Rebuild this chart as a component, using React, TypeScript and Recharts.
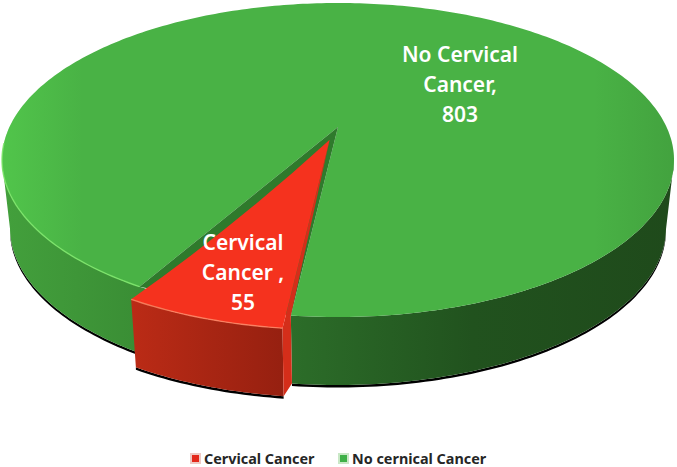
import React from "react";
import { PieChart, Pie, Cell, Legend } from "recharts";

const categories = ["No Cervical Cancer", "Cervical Cancer"];
const values = [803, 55];
const legendLabels = ["Cervical Cancer", "No cernical Cancer"];
const legendColors = ["#e3291b", "#3fb048"];
const sliceColors = ["#49b245", "#f5321e"];
const labelLines = [["No Cervical", "Cancer,", "803"], ["Cervical", "Cancer ,", "55"]];

const data = categories.map((name, i) => ({ name, value: values[i] }));

const FONT = "'Noto Sans', sans-serif";
const W = 677, H = 467;
const CX = 338, CY = 160, R = 336;
const SQUASH = 157 / 336;      // vertical foreshortening of the disc
const K = -0.21;               // perspective shift of the centre
const DEPTH = 68;              // wall height
const BOTTOM_SCALE = 328 / 336;
const EXPLODE_X = 0.08;
const EXPLODE_Y = 0.085;
const LABEL_POS = [{ x: 460, y: 61.5 }, { x: 243, y: 250 }];
const LINE_H = 30;

type P = { x: number; y: number };
const RAD = Math.PI / 180;

function norm(a: number, r = 1) {
  const u = r * Math.cos(a * RAD);
  const v = -r * Math.sin(a * RAD);
  const w = 1 + K * v;
  return { X: (u * Math.sqrt(1 - K * K)) / w, Y: (v + K) / w };
}

function makeProj(cx: number, cy: number, rad: number, dx: number, dy: number) {
  return (a: number, r = 1, bottom = false): P => {
    const { X, Y } = norm(a, r);
    const rx = bottom ? rad * BOTTOM_SCALE : rad;
    return { x: cx + dx + rx * X, y: cy + dy + (bottom ? DEPTH : 0) + rad * SQUASH * Y };
  };
}

const fmt = (p: P) => `${p.x.toFixed(2)} ${p.y.toFixed(2)}`;
const poly = (pts: P[]) => pts.map((p, i) => `${i ? "L" : "M"}${fmt(p)}`).join(" ");

function sampleAngles(start: number, end: number) {
  const n = Math.max(2, Math.ceil(Math.abs(end - start)));
  return Array.from({ length: n + 1 }, (_, i) => start + ((end - start) * i) / n);
}

function bowed(a: P, b: P, amount: number) {
  const mx = (a.x + b.x) / 2, my = (a.y + b.y) / 2;
  const dx = b.x - a.x, dy = b.y - a.y, l = Math.hypot(dx, dy) || 1;
  return `Q${(mx + (Math.abs(dy) / l) * amount).toFixed(2)} ${(my + (Math.abs(dx) / l) * amount).toFixed(2)} ${fmt(b)}`;
}

function Slice3D(props: any) {
  const { cx, cy, outerRadius, startAngle, endAngle, index } = props;
  const mid = (startAngle + endAngle) / 2;
  const isRed = index === 1;
  const dx = isRed ? Math.cos(mid * RAD) * outerRadius * EXPLODE_X : 0;
  const dy = isRed ? -Math.sin(mid * RAD) * outerRadius * SQUASH * EXPLODE_Y : 0;
  const proj = makeProj(cx, cy, outerRadius, dx, dy);
  const base = makeProj(cx, cy, outerRadius, 0, 0);
  const angles = sampleAngles(startAngle, endAngle);
  // the green wall continues a little way under the red slice
  const wallAngles = isRed ? angles : sampleAngles(startAngle + 5, endAngle);

  // wall pieces: the part of the rim facing the viewer
  const runs: number[][] = [];
  let cur: number[] = [];
  wallAngles.forEach((a) => {
    if (norm(a).Y >= 0) cur.push(a);
    else if (cur.length) { runs.push(cur); cur = []; }
  });
  if (cur.length) runs.push(cur);

  const walls = runs.map((run) => {
    const top = run.map((a) => proj(a));
    const bot = run.map((a) => proj(a, 1, true));
    return poly([...top, ...bot.slice().reverse()]) + " Z";
  });
  const shadows = runs.map((run) => {
    const bot = run.map((a) => proj(a, 1, true));
    const low = bot.map((p) => ({ x: p.x, y: p.y + 2.5 }));
    return poly([...bot, ...low.reverse()]) + " Z";
  });

  const apex = proj(0, 0);
  const rim = angles.map((a) => proj(a));
  const first = rim[0], last = rim[rim.length - 1];
  const rimPath = rim.map((p) => `L${fmt(p)}`).join(" ");

  if (!isRed) {
    const top = `M${fmt(apex)} ${rimPath} Z`;
    const notch = `M${fmt(apex)} L${fmt(last)} L${fmt(first)} Z`;
    const highlight = poly(sampleAngles(186, startAngle).map((a) => proj(a)));
    return (
      <g>
        <defs>
          <linearGradient id="greenWall" gradientUnits="userSpaceOnUse" x1="2" y1="0" x2="674" y2="0">
            <stop offset="0" stopColor="#43a03c" />
            <stop offset="0.2" stopColor="#3a8e35" />
            <stop offset="0.43" stopColor="#2c6d29" />
            <stop offset="0.7" stopColor="#21521e" />
            <stop offset="1" stopColor="#1f4a1b" />
          </linearGradient>
          <linearGradient id="greenTopSide" x1="0" y1="0" x2="1" y2="0">
            <stop offset="0" stopColor="#5bdc52" stopOpacity="0.45" />
            <stop offset="0.12" stopColor="#5bdc52" stopOpacity="0" />
            <stop offset="0.88" stopColor="#1f4a1b" stopOpacity="0" />
            <stop offset="1" stopColor="#1f4a1b" stopOpacity="0.15" />
          </linearGradient>
        </defs>
        {shadows.map((d, i) => <path key={`s${i}`} d={d} fill="#000" />)}
        {walls.map((d, i) => <path key={`w${i}`} d={d} fill="url(#greenWall)" />)}
        <path d={top} fill={props.fill} />
        <path d={top} fill="url(#greenTopSide)" />
        <path d={notch} fill="#2f7a2c" />
        <path d={highlight} fill="none" stroke="#7fe86c" strokeWidth={1.4} strokeOpacity={0.85} />
      </g>
    );
  }

  // red slice: start is the right corner, end is the left corner
  const gRight = base(startAngle);
  const gRightBottom = base(startAngle, 1, true);
  const rBottom = proj(startAngle, 1, true);
  const topCurved = `M${fmt(apex)} ${rimPath} ${bowed(last, apex, 8)} Z`;
  return (
    <g>
      <defs>
        <linearGradient id="redWall" x1="0" y1="0" x2="1" y2="0">
          <stop offset="0" stopColor="#bb2b16" />
          <stop offset="1" stopColor="#962010" />
        </linearGradient>
      </defs>
      {shadows.map((d, i) => <path key={`s${i}`} d={d} fill="#000" />)}
      {walls.map((d, i) => <path key={`w${i}`} d={d} fill="url(#redWall)" />)}
      <path d={poly([apex, first, rBottom, gRightBottom, gRight]) + " Z"} fill="#d42e1a" />
      <path d={topCurved} fill={props.fill} />
      <path d={poly(rim)} fill="none" stroke="#ff8a68" strokeWidth={1.4} strokeOpacity={0.8} />
    </g>
  );
}

function SliceLabel(props: any) {
  const i = props.index;
  const pos = LABEL_POS[i];
  return (
    <text x={pos.x} y={pos.y} textAnchor="middle" fill="#ffffff" fontFamily={FONT} fontWeight={600} fontSize={21}>
      {labelLines[i].map((line, j) => (
        <tspan key={j} x={pos.x} y={pos.y + j * LINE_H}>{line}</tspan>
      ))}
    </text>
  );
}

function LegendBox() {
  return (
    <div style={{ position: "relative", width: W, height: 22, fontFamily: FONT, fontWeight: 700, fontSize: 14.4, color: "#262626" }}>
      {legendLabels.map((label, i) => (
        <div key={label} style={{ position: "absolute", left: i === 0 ? 190 : 338, top: 0, display: "flex", alignItems: "center", height: 22, whiteSpace: "nowrap" }}>
          <span style={{ display: "inline-block", boxSizing: "border-box", width: 11, height: 11, marginRight: 3, background: legendColors[i], border: `2px solid ${i === 0 ? "#eec9c4" : "#c9e8c6"}` }} />
          {label}
        </div>
      ))}
    </div>
  );
}

export default function App() {
  return (
    <div style={{ position: "absolute", left: 0, top: 0, width: W, height: H, background: "#fff" }}>
      <PieChart width={W} height={H} margin={{ top: 0, right: 0, bottom: 0, left: 0 }}>
        <Pie
          data={data}
          dataKey="value"
          nameKey="name"
          cx={CX}
          cy={CY}
          outerRadius={R}
          startAngle={240.4}
          endAngle={-119.6}
          stroke="none"
          isAnimationActive={false}
          shape={Slice3D}
          label={SliceLabel}
          labelLine={false}
        >
          {data.map((d, i) => <Cell key={d.name} fill={sliceColors[i]} />)}
        </Pie>
        <Legend content={<LegendBox />} wrapperStyle={{ position: "absolute", left: 0, top: 447, width: W }} />
      </PieChart>
    </div>
  );
}
